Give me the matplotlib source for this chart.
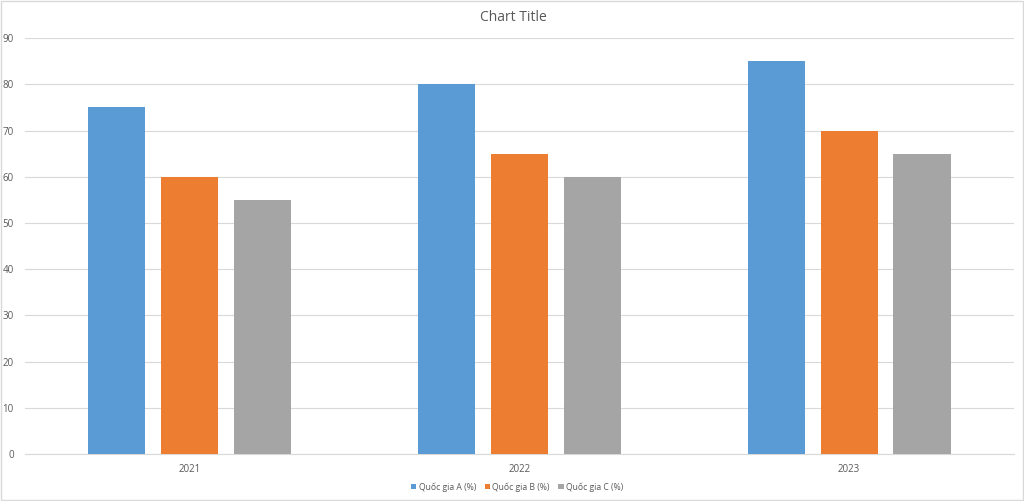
import matplotlib.pyplot as plt
import numpy as np

years = ["2021", "2022", "2023"]
series = ["Quốc gia A (%)", "Quốc gia B (%)", "Quốc gia C (%)"]
country_a = [75, 80, 85]
country_b = [60, 65, 70]
country_c = [55, 60, 65]
colors = ["#5B9BD5", "#ED7D31", "#A5A5A5"]

plt.rcParams["font.family"] = ["Open Sans", "DejaVu Sans"]

fig = plt.figure(figsize=(10.24, 5.01), dpi=100)
ax = fig.add_axes([0.0244, 0.0938, 0.9658, 0.830])

x = np.arange(len(years))
width = 0.173
step = 0.221
for i, (vals, name) in enumerate(zip([country_a, country_b, country_c], series)):
    ax.bar(x + (i - 1) * step, vals, width, color=colors[i], label=name, zorder=3)

ax.set_xlim(-0.5, 2.5)
ax.set_ylim(0, 90)
ax.set_yticks(range(0, 91, 10))
ax.set_xticks(x)
ax.set_xticklabels(years)
ax.grid(axis="y", color="#D9D9D9", linewidth=0.8, zorder=0)
for s in ["top", "left", "right"]:
    ax.spines[s].set_visible(False)
ax.spines["bottom"].set_color("#D9D9D9")
ax.tick_params(axis="both", length=0, labelsize=7, labelcolor="#595959")
ax.tick_params(axis="x", pad=7)
ax.tick_params(axis="y", pad=8)

fig.text(0.501, 0.965, "Chart Title", ha="center", va="center", fontsize=10, color="#595959")
fig.legend(loc="center", bbox_to_anchor=(0.505, 0.028), ncol=3, frameon=False,
           fontsize=6.2, labelcolor="#595959", handlelength=0.6, handleheight=0.6,
           handletextpad=0.3, columnspacing=1.0)

fig.patches.append(plt.Rectangle((0.001, 0.001), 0.998, 0.997, transform=fig.transFigure,
                                 fill=False, edgecolor="#D9D9D9", linewidth=1))

fig.savefig("out.png", dpi=100)
